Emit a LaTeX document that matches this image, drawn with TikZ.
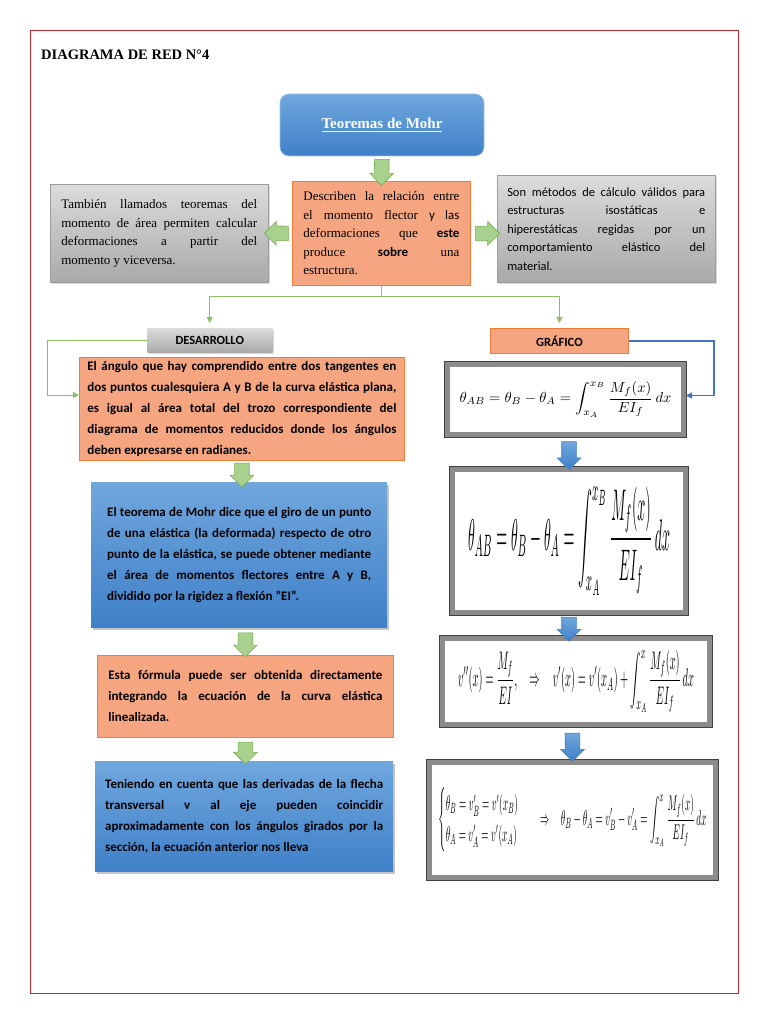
\documentclass[tikz,border=0pt]{standalone}
\usepackage{fontspec}
\setmainfont{Liberation Serif}
\setsansfont{Carlito}
\usepackage{amsmath}
\usetikzlibrary{arrows.meta,shapes.arrows,shadows}
\definecolor{bluetop}{HTML}{70A7DD}
\definecolor{bluebot}{HTML}{3F80C8}
\definecolor{salmon}{HTML}{F5A580}
\definecolor{salmonedge}{HTML}{EE7D3A}
\definecolor{graytop}{HTML}{DCDCDC}
\definecolor{graybot}{HTML}{A9A9A9}
\definecolor{grayedge}{HTML}{9C9C9C}
\definecolor{gfill}{HTML}{A9D18E}
\definecolor{gedge}{HTML}{76AE4F}
\definecolor{gline}{HTML}{8CC063}
\definecolor{bline}{HTML}{4472C4}
\definecolor{framered}{HTML}{C0282D}
\tikzset{
  box/.style={rectangle, anchor=north west, align=justify, inner ysep=4pt},
  serifbox/.style={box, font=\fontsize{13}{18.5}\selectfont},
  sansbox/.style={box, font=\sffamily\bfseries\fontsize{13}{21}\selectfont},
  titlebox/.style={top color=bluetop, bottom color=bluebot, draw=bluetop!70, line width=.6pt},
  bluebox/.style={top color=bluetop, bottom color=bluebot,
    drop shadow={shadow xshift=2pt, shadow yshift=-2.5pt, opacity=.45}},
  orangebox/.style={fill=salmon, draw=salmonedge, line width=.8pt},
  graybox/.style={top color=graytop, bottom color=graybot, draw=grayedge, line width=.5pt,
    drop shadow={shadow xshift=1.5pt, shadow yshift=-1.5pt, opacity=.3}},
  formbox/.style={anchor=north west, fill=white, inner sep=0pt,
    preaction={draw=black!75, line width=7pt}, draw=black!45, line width=5pt},
  blockarrow/.style={single arrow, sloped, allow upside down, inner sep=7pt,
    minimum width=0pt, single arrow head extend=4.5pt, line width=.6pt},
  garrow/.style={blockarrow, fill=gfill, draw=gedge},
  barrow/.style={blockarrow, top color=bluetop, bottom color=bluebot, draw=bluebot},
  gconn/.style={draw=gline, line width=.9pt, -{Triangle[length=6pt,width=6pt]}},
  bconn/.style={draw=bline, line width=1.4pt, -{Triangle[length=6pt,width=6pt]}}
}
\begin{document}
\begin{tikzpicture}[x=1pt,y=-1pt]
\useasboundingbox (0,0) rectangle (768,1024);
\draw[framered, line width=.8pt] (30,30) rectangle (738,993);

\node[anchor=west, inner sep=0pt, font=\bfseries\fontsize{14.5}{16}\selectfont] (title) at (41,55) {DIAGRAMA DE RED N°4};

\node[titlebox, rounded corners=9pt, minimum width=204pt, minimum height=62pt, text=white,
  font=\bfseries\fontsize{15}{17}\selectfont] (mohr) at (382,125) {\underline{Teoremas de Mohr}};

\node[serifbox, orangebox, inner xsep=11pt, text width=156pt, minimum height=104pt] (describe) at (292,181)
  {Describen la relación entre\linebreak el momento flector {\sffamily y las}\linebreak
   deformaciones que {\sffamily\bfseries este}\linebreak produce {\sffamily\bfseries sobre} una\linebreak estructura.};
\node[serifbox, graybox, inner xsep=11pt, text width=196pt, minimum height=98pt] (tambien) at (50,184)
  {También llamados teoremas del\linebreak momento de área permiten calcular\linebreak
   deformaciones a partir del\linebreak momento y viceversa.\par\vspace{14pt}};
\node[box, graybox, font=\sffamily\fontsize{12.5}{18.5}\selectfont, inner xsep=10pt, text width=198pt,
  minimum height=107pt] (metodos) at (497,175)
  {Son métodos de cálculo válidos para\linebreak estructuras isostáticas e\linebreak
   hiperestáticas regidas por un\linebreak comportamiento elástico del\linebreak material.};

\path (mohr.south) -- (describe.north) node[midway, garrow, minimum height=26pt] (a0) {};
\path (describe.west) -- (tambien.east -| describe.west) ++(-24,0) coordinate (l0);
\path (describe.west) -- (l0) node[midway, garrow, minimum height=24pt] (a1) {};
\path (describe.east) -- (describe.east -| metodos.west) node[midway, garrow, minimum height=24pt] (a2) {};

\node[box, graybox, draw=none, font=\sffamily\bfseries\fontsize{12.5}{14}\selectfont, align=center,
  minimum width=125pt, minimum height=24pt] (desarrollo) at (147,328) {DESARROLLO};
\node[box, orangebox, font=\sffamily\bfseries\fontsize{12.5}{14}\selectfont, align=center,
  minimum width=138pt, minimum height=25pt] (grafico) at (490,328) {GRÁFICO};

\draw[gconn, shorten >=5pt] (describe.south) -- ++(0,11) -| (desarrollo.north);
\draw[gconn, shorten >=5pt] (describe.south) -- ++(0,11) -| (grafico.north);

\node[sansbox, orangebox, inner xsep=8pt, text width=309pt, minimum height=100pt] (angulo) at (79,357)
  {El ángulo que hay comprendido entre dos tangentes en\linebreak
   dos puntos cualesquiera A y B de la curva elástica plana,\linebreak
   es igual al área total del trozo correspondiente del\linebreak
   diagrama de momentos reducidos donde los ángulos\linebreak
   deben expresarse en radianes.};
\node[sansbox, bluebox, inner xsep=16pt, text width=264pt, minimum height=145pt] (giro) at (91,482)
  {El teorema de Mohr dice que el giro de un punto\linebreak
   de una elástica (la deformada) respecto de otro\linebreak
   punto de la elástica, se puede obtener mediante\linebreak
   el área de momentos flectores entre A y B,\linebreak
   dividido por la rigidez a flexión "EI”.};
\node[sansbox, orangebox, inner xsep=11pt, text width=274pt, minimum height=82pt] (formula) at (97,655)
  {Esta fórmula puede ser obtenida directamente\linebreak
   integrando la ecuación de la curva elástica\linebreak
   linealizada.};
\node[sansbox, bluebox, inner xsep=10pt, text width=278pt, minimum height=110pt] (teniendo) at (95,761)
  {Teniendo en cuenta que las derivadas de la flecha\linebreak
   transversal v al eje pueden coincidir\linebreak
   aproximadamente con los ángulos girados por la\linebreak
   sección, la ecuación anterior nos lleva\par\vspace{26pt}};

\draw[gconn] (desarrollo.west) -- ++(-100,0) |- ([yshift=14pt]angulo.west);
\path (angulo.south) -- (angulo.south |- giro.north) node[midway, garrow, minimum height=24pt] (a3) {};
\path (formula.north |- giro.south) -- (formula.north) node[midway, garrow, minimum height=24pt] (a4) {};
\path (formula.south) -- (formula.south |- teniendo.north) node[midway, garrow, minimum height=22pt] (a5) {};

\node[formbox, minimum width=236pt, minimum height=70pt] (eq1) at (445,362)
  {\resizebox{212pt}{!}{$\displaystyle \theta_{AB}=\theta_B-\theta_A=\int_{x_A}^{x_B}\frac{M_f(x)}{EI_f}\,dx$}};
\node[formbox, minimum width=233pt, minimum height=143pt] (eq2) at (450,467)
  {\resizebox*{202pt}{108pt}{$\displaystyle \theta_{AB}=\theta_B-\theta_A=\int_{x_A}^{x_B}\frac{M_f(x)}{EI_f}\,dx$}};
\node[formbox, minimum width=267pt, minimum height=86pt] (eq3) at (440,636)
  {\resizebox*{236pt}{62pt}{$\displaystyle v''(x)=\frac{M_f}{EI},\quad\Rightarrow\quad v'(x)=v'(x_A)+\int_{x_A}^{x}\frac{M_f(x)}{EI_f}\,dx$}};
\node[formbox, minimum width=286pt, minimum height=115pt] (eq4) at (427,760)
  {\resizebox*{268pt}{64pt}{$\displaystyle \begin{cases}\theta_B=v'_B=v'(x_B)\\ \theta_A=v'_A=v'(x_A)\end{cases}\quad\Rightarrow\quad\theta_B-\theta_A=v'_B-v'_A=\int_{x_A}^{x}\frac{M_f(x)}{EI_f}\,dx$}};

\draw[bconn] (grafico.east) -- ++(85,0) |- ([yshift=4pt]eq1.east);
\path (eq2.north |- eq1.south) -- (eq2.north) node[midway, barrow, minimum height=28pt] (b1) {};
\path (eq2.south) -- (eq2.south |- eq3.north) node[midway, barrow, minimum height=24pt] (b2) {};
\path (eq4.north |- eq3.south) -- (eq4.north) node[midway, barrow, minimum height=28pt] (b3) {};
\end{tikzpicture}
\end{document}
